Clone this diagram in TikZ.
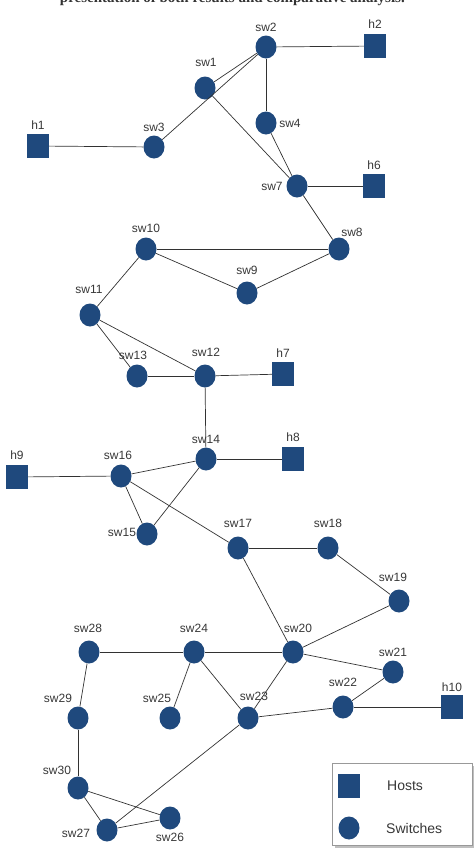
\documentclass[tikz,border=0pt]{standalone}
\usepackage{fontspec}
\setmainfont{Liberation Sans}
\newfontfamily\capfont{Liberation Serif}
\usetikzlibrary{shapes.geometric}
\definecolor{nodeblue}{RGB}{31,73,125}
\definecolor{linecol}{RGB}{50,50,50}
\definecolor{labcol}{RGB}{55,55,55}
\tikzset{
  swnode/.style={ellipse,fill=nodeblue,minimum width=21pt,minimum height=23pt,inner sep=0pt},
  hostnode/.style={rectangle,fill=nodeblue,minimum width=22pt,minimum height=24pt,inner sep=0pt},
  lab/.style={text=labcol,font=\fontsize{12pt}{14pt}\selectfont,inner sep=0pt},
  legtext/.style={text=labcol,font=\fontsize{14pt}{16pt}\selectfont,inner sep=0pt,anchor=west},
  link/.style={draw=linecol,line width=0.7pt},
}
\begin{document}
\begin{tikzpicture}[x={(1pt,0)},y={(0,-1pt)}]
\useasboundingbox (0,0) rectangle (474,849);
\begin{scope}
\clip (0,0) rectangle (474,849);
\node[font=\capfont\fontsize{15pt}{17pt}\selectfont\bfseries,anchor=base east,inner sep=0pt,text=black!80] (cap) at (405,2.5) {presentation of both results and comparative analysis.};
\end{scope}
% hosts
\node[hostnode] (h1) at (38,146) {};
\node[hostnode] (h2) at (375,46) {};
\node[hostnode] (h6) at (374,186) {};
\node[hostnode] (h7) at (283,374) {};
\node[hostnode] (h8) at (293,459) {};
\node[hostnode] (h9) at (17,477) {};
\node[hostnode] (h10) at (452,707) {};
% switches
\node[swnode] (sw1) at (205,88) {};
\node[swnode] (sw2) at (266,47) {};
\node[swnode] (sw3) at (154,147) {};
\node[swnode] (sw4) at (266,123) {};
\node[swnode] (sw7) at (297,186) {};
\node[swnode] (sw8) at (339,249) {};
\node[swnode] (sw9) at (247,293) {};
\node[swnode] (sw10) at (146,249) {};
\node[swnode] (sw11) at (90,315) {};
\node[swnode] (sw12) at (205,376) {};
\node[swnode] (sw13) at (137,376) {};
\node[swnode] (sw14) at (206,459) {};
\node[swnode] (sw15) at (147,534) {};
\node[swnode] (sw16) at (121,476) {};
\node[swnode] (sw17) at (238,548) {};
\node[swnode] (sw18) at (328,548) {};
\node[swnode] (sw19) at (399,601) {};
\node[swnode] (sw20) at (293,652) {};
\node[swnode] (sw21) at (393,672) {};
\node[swnode] (sw22) at (343,707) {};
\node[swnode] (sw23) at (248,718) {};
\node[swnode] (sw24) at (194,652) {};
\node[swnode] (sw25) at (170,718) {};
\node[swnode] (sw26) at (170,818) {};
\node[swnode] (sw27) at (107,830) {};
\node[swnode] (sw28) at (89,652) {};
\node[swnode] (sw29) at (78,718) {};
\node[swnode] (sw30) at (78,788) {};
% labels
\node[lab] (lh1) at (38,125) {h1};
\node[lab] (lh2) at (375,24) {h2};
\node[lab] (lh6) at (374,165) {h6};
\node[lab] (lh7) at (283,353) {h7};
\node[lab] (lh8) at (293,437) {h8};
\node[lab] (lh9) at (17,455) {h9};
\node[lab] (lh10) at (452,687) {h10};
\node[lab] (lsw1) at (206,62) {sw1};
\node[lab] (lsw2) at (266,27) {sw2};
\node[lab] (lsw3) at (154,127) {sw3};
\node[lab] (lsw4) at (290,123) {sw4};
\node[lab] (lsw7) at (272,186) {sw7};
\node[lab] (lsw8) at (352,232) {sw8};
\node[lab] (lsw9) at (247,270) {sw9};
\node[lab] (lsw10) at (146,228) {sw10};
\node[lab] (lsw11) at (89,289) {sw11};
\node[lab] (lsw12) at (206,352) {sw12};
\node[lab] (lsw13) at (133,355) {sw13};
\node[lab] (lsw14) at (206,439) {sw14};
\node[lab] (lsw15) at (122,532) {sw15};
\node[lab] (lsw16) at (118,455) {sw16};
\node[lab] (lsw17) at (238,523) {sw17};
\node[lab] (lsw18) at (328,523) {sw18};
\node[lab] (lsw19) at (393,577) {sw19};
\node[lab] (lsw20) at (298,628) {sw20};
\node[lab] (lsw21) at (393,652) {sw21};
\node[lab] (lsw22) at (343,682) {sw22};
\node[lab] (lsw23) at (254,696) {sw23};
\node[lab] (lsw24) at (194,628) {sw24};
\node[lab] (lsw25) at (157,698) {sw25};
\node[lab] (lsw26) at (170,837) {sw26};
\node[lab] (lsw27) at (76,833) {sw27};
\node[lab] (lsw28) at (88,628) {sw28};
\node[lab] (lsw29) at (58,698) {sw29};
\node[lab] (lsw30) at (57,770) {sw30};
% links
\foreach \a/\b in {sw2/h2,sw2/sw1,sw2/sw3,sw2/sw4,sw3/h1,sw1/sw7,sw4/sw7,sw7/h6,sw7/sw8,
  sw8/sw10,sw8/sw9,sw10/sw9,sw10/sw11,sw11/sw13,sw11/sw12,sw13/sw12,sw12/h7,sw12/sw14,
  sw14/h8,sw14/sw16,sw16/h9,sw16/sw15,sw15/sw14,sw16/sw17,sw17/sw18,sw18/sw19,sw17/sw20,
  sw19/sw20,sw20/sw24,sw24/sw28,sw20/sw21,sw20/sw23,sw24/sw25,sw24/sw23,sw23/sw22,
  sw22/sw21,sw22/h10,sw28/sw29,sw29/sw30,sw30/sw26,sw30/sw27,sw27/sw26,sw27/sw23}
  \draw[link] (\a) -- (\b);
% legend
\fill[black!25] (334.5,765.5) rectangle (474,847.5);
\node[draw=black!40,fill=white,line width=0.8pt,minimum width=140pt,minimum height=82pt,inner sep=0pt] (legbox) at (402,804) {};
\node[hostnode] (lhost) at (349,786) {};
\node[swnode] (lswitch) at (349,828) {};
\node[legtext] (lhosttxt) at (387,786) {Hosts};
\node[legtext] (lswtxt) at (386,828) {Switches};
\end{tikzpicture}
\end{document}
